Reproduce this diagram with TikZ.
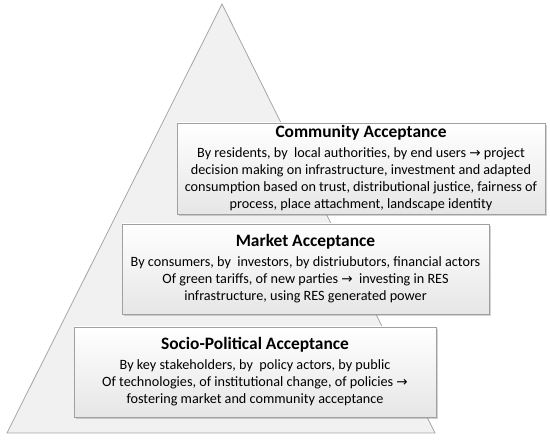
\documentclass[tikz,border=0pt]{standalone}
\usepackage{fontspec}
\setmainfont{Carlito}
\newfontfamily\arrowfont{DejaVu Sans}
\usetikzlibrary{shadows}
\definecolor{triborder}{HTML}{A6A6A6}
\definecolor{trifill}{HTML}{F1F1F1}
\definecolor{boxborder}{HTML}{A0A0A0}
\definecolor{boxbottom}{HTML}{E6E6E6}
\newcommand{\rarr}{{\arrowfont\fontsize{13.5}{17}\selectfont →}}
\newcommand{\layertitle}[1]{{\fontsize{17.4}{20}\selectfont\bfseries #1}}
\begin{document}
\begin{tikzpicture}[x=1pt,y=-1pt,
  tri/.style={draw=triborder, fill=trifill, line width=0.8pt, line join=miter},
  layerbox/.style={draw=boxborder, line width=0.8pt, top color=white, bottom color=boxbottom,
    drop shadow={shadow xshift=1.6pt, shadow yshift=-1.6pt, opacity=0.35},
    align=center, inner sep=0pt, font=\fontsize{14.2}{17}\selectfont}]
\useasboundingbox (0,0) rectangle (550,441);
\coordinate (apex) at (222,4);
\coordinate (baseR) at (435,433);
\coordinate (baseL) at (7,433);
\draw[tri] (apex) -- (baseR) -- (baseL) -- cycle;

\node[layerbox, minimum width=368pt, minimum height=91pt] (community) at (361,168.5)
 {\layertitle{Community Acceptance}\\[3pt]
  By residents, by\ \ local authorities, by end users \rarr\ project\\
  decision making on infrastructure, investment and adapted\\
  consumption based on trust, distributional justice, fairness of\\
  process, place attachment, landscape identity};

\node[layerbox, minimum width=367pt, minimum height=90pt] (market) at (305.5,269)
 {\layertitle{Market Acceptance}\\[3pt]
  By consumers, by\ \ investors, by distriubutors, financial actors\\
  Of green tariffs, of new parties \rarr\ \ investing in RES\\
  infrastructure, using RES generated power};

\node[layerbox, minimum width=362pt, minimum height=90pt] (socio) at (255,372)
 {\layertitle{Socio-Political Acceptance}\\[3pt]
  By key stakeholders, by\ \ policy actors, by public\\
  Of technologies, of institutional change, of policies \rarr\\
  fostering market and community acceptance};
\end{tikzpicture}
\end{document}
